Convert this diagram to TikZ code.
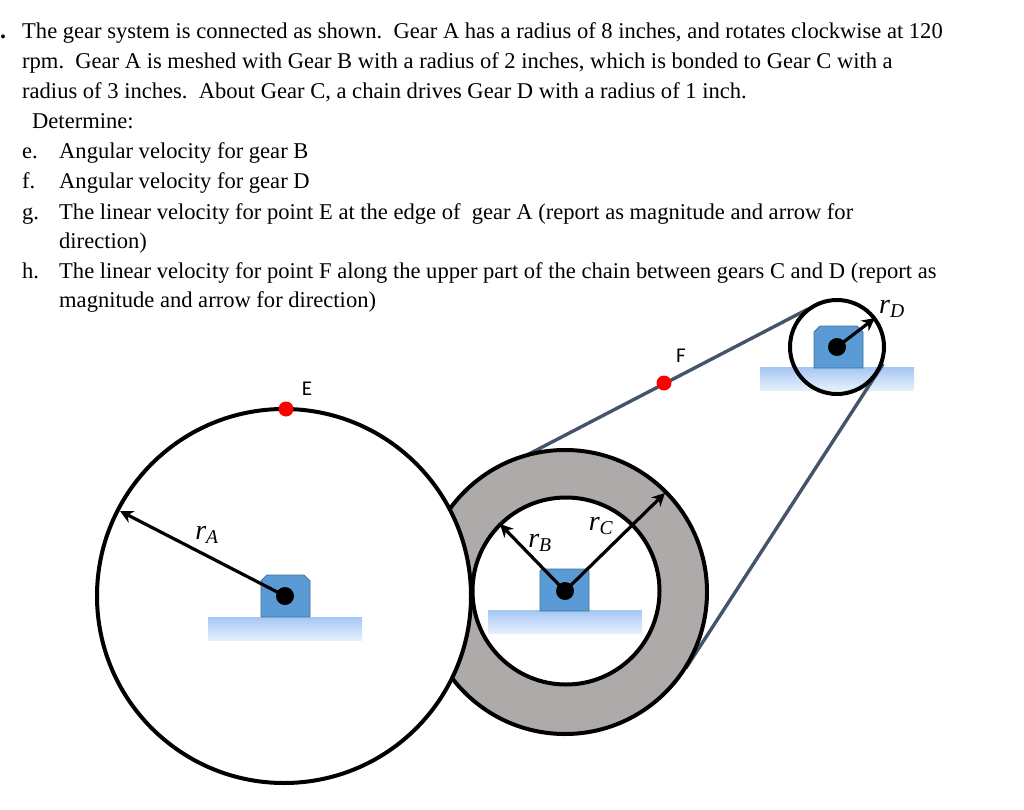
\documentclass[tikz,border=0pt]{standalone}
\usepackage{fontspec}
\setmainfont{Liberation Serif}
\newfontfamily\lblfont{Carlito}
\usetikzlibrary{arrows.meta}
\definecolor{chaincol}{HTML}{44546A}
\definecolor{ringcol}{HTML}{AEAAAA}
\definecolor{blockcol}{HTML}{5B9BD5}
\definecolor{blockedge}{HTML}{41719C}
\definecolor{basetop}{HTML}{A4C6F3}
\definecolor{basebot}{HTML}{E6F0FC}
\tikzset{
  txt/.style={anchor=base west, inner sep=0pt, font=\fontsize{22.55}{27}\selectfont},
  gearcirc/.style={circle, draw=black, line width=4pt, inner sep=0pt, outer sep=0pt},
  hub/.style={circle, fill=black, inner sep=0pt, minimum size=18pt},
  marker/.style={circle, fill=red, inner sep=0pt, minimum size=15pt},
  radius/.style={-{Stealth[length=13pt,width=13pt]}, line width=3.2pt},
  chain/.style={draw=chaincol, line width=3.4pt},
  lbl/.style={inner sep=0pt, font=\lblfont\fontsize{21}{24}\selectfont},
  rlbl/.style={inner sep=0pt, font=\itshape\fontsize{28}{30}\selectfont},
}
\begin{document}
\begin{tikzpicture}[x=1pt, y=-1pt]
\useasboundingbox (0, 0) rectangle (1024, 810);

% Text
\node[txt, font=\bfseries\fontsize{24}{26}\selectfont] (dot) at (0, 39) {.};
\node[txt] (line1) at (22, 39) {The gear system is connected as shown.\ \ Gear A has a radius of 8 inches, and rotates clockwise at 120};
\node[txt] (line2) at (22, 69) {rpm.\ \ Gear A is meshed with Gear B with a radius of 2 inches, which is bonded to Gear C with a};
\node[txt] (line3) at (22, 99) {radius of 3 inches.\ \ About Gear C, a chain drives Gear D with a radius of 1 inch.};
\node[txt] (line4) at (32, 129) {Determine:};
\node[txt] (itemE) at (22, 159) {e.};
\node[txt] (line5) at (59, 159) {Angular velocity for gear B};
\node[txt] (itemF) at (22, 189) {f.};
\node[txt] (line6) at (59, 189) {Angular velocity for gear D};
\node[txt] (itemG) at (22, 219) {g.};
\node[txt] (line7) at (59, 219) {The linear velocity for point E at the edge of\ \ gear A (report as magnitude and arrow for};
\node[txt] (line8) at (59, 248) {direction)};
\node[txt] (itemH) at (22, 278) {h.};
\node[txt] (line9) at (59, 278) {The linear velocity for point F along the upper part of the chain between gears C and D (report as};
\node[txt] (line10) at (59, 307) {magnitude and arrow for direction)};

% Base under gear D
\shade[top color=basetop, bottom color=basebot] (760, 367) rectangle ++(154, 23);

% Chain
\coordinate (chainCtop) at (527, 455);
\coordinate (chainDtop) at (808, 309);
\coordinate (chainCbot) at (686, 668);
\coordinate (chainDbot) at (883, 364);
\draw[chain] (chainCtop) -- (chainDtop);
\draw[chain] (chainCbot) -- (chainDbot);

% Gears
\node[gearcirc, fill=ringcol, minimum size=284pt] (gearC) at (565, 592) {};
\node[gearcirc, fill=white, minimum size=187pt] (gearB) at (566, 591) {};
\node[gearcirc, fill=white, minimum size=374pt] (gearA) at (284, 596) {};
\node[gearcirc, minimum size=94pt] (gearD) at (837, 347) {};

% Bases
\foreach \bx/\by in {208/617, 488/610} {
  \shade[top color=basetop, bottom color=basebot] (\bx, \by) rectangle ++(154, 23);
}

% Blocks
\foreach \hx/\hy/\cut in {285/596/6, 564/590/2, 838/347/6} {
  \draw[fill=blockcol, draw=blockedge, line width=0.8pt]
    (\hx-24, \hy+21) -- (\hx-24, \hy-21+\cut) -- (\hx-24+\cut, \hy-21)
    -- (\hx+25-\cut, \hy-21) -- (\hx+25, \hy-21+\cut) -- (\hx+25, \hy+21) -- cycle;
}

% Hubs
\node[hub] (hubA) at (285, 596) {};
\node[hub] (hubB) at (565, 591) {};
\node[hub] (hubD) at (837, 347) {};

% Radius arrows
\coordinate (tipA) at (120, 511);
\coordinate (tipB) at (500, 524);
\coordinate (tipC) at (665, 493);
\coordinate (tipD) at (875, 318);
\draw[radius] (hubA.center) -- (tipA);
\draw[radius] (hubB.center) -- (tipB);
\draw[radius] (hubB.center) -- (tipC);
\draw[radius] (hubD.center) -- (tipD);

% Points
\node[marker] (pointE) at (286, 409) {};
\node[marker] (pointF) at (664, 383) {};
\node[lbl] (labelE) at (307, 389) {E};
\node[lbl] (labelF) at (681, 356) {F};

% Radius labels
\node[rlbl] (labelA) at (207, 535) {r\textsubscript{A}};
\node[rlbl] (labelB) at (540, 543) {r\textsubscript{B}};
\node[rlbl] (labelC) at (601, 526) {r\textsubscript{C}};
\node[rlbl] (labelD) at (892, 309) {r\textsubscript{D}};

\end{tikzpicture}
\end{document}
